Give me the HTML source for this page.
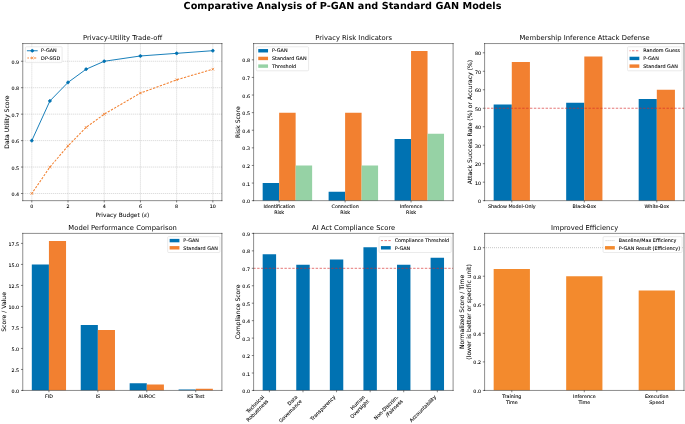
<!DOCTYPE html>
<html><head><meta charset="utf-8"><title>Comparative Analysis of P-GAN and Standard GAN Models</title>
<style>html,body{margin:0;padding:0;background:#fff;}body{width:685px;height:424px;overflow:hidden;}svg{display:block;text-rendering:geometricPrecision;}svg text{stroke:#000;stroke-linejoin:round;}</style>
</head><body>
<svg width="685" height="424" viewBox="0 0 685 424" version="1.1">
 
 <defs>
  <style type="text/css">*{stroke-linejoin: round; stroke-linecap: butt}</style>
 </defs>
 <g id="figure_1">
  <g id="patch_1">
   <path d="M 0 424 
L 685 424 
L 685 0 
L 0 0 
z
" style="fill: #ffffff"/>
  </g>
  <g id="axes_1">
   <g id="patch_2">
    <path d="M 22.75 200.65 
L 221.9 200.65 
L 221.9 43.55 
L 22.75 43.55 
z
" style="fill: #ffffff"/>
   </g>
   <g id="matplotlib.axis_1">
    <g id="xtick_1">
     <g id="line2d_1">
      <path d="M 31.802273 200.65 
L 31.802273 43.55 
" clip-path="url(#pb5291930f9)" style="fill: none; stroke-dasharray: 1.1,0.9; stroke-dashoffset: 0; stroke: #a8a8a8; stroke-opacity: 0.9; stroke-width: 0.5"/>
     </g>
     <g id="line2d_2">
      <defs>
       <path id="m4ba33041bc" d="M 0 0 
L 0 1.8 
" style="stroke: #000000; stroke-width: 0.5"/>
      </defs>
      <g>
       <use href="#m4ba33041bc" x="31.802273" y="200.65" style="stroke: #000000; stroke-width: 0.5"/>
      </g>
     </g>
     <g id="xtl_0_1">
      <text style="font-size: 48px; stroke-width: 0.8; font-family: 'DejaVu Sans', sans-serif; text-anchor: middle" transform="translate(31.802273 207.89725) scale(0.1)">0</text>
     </g>
    </g>
    <g id="xtick_2">
     <g id="line2d_3">
      <path d="M 68.011364 200.65 
L 68.011364 43.55 
" clip-path="url(#pb5291930f9)" style="fill: none; stroke-dasharray: 1.1,0.9; stroke-dashoffset: 0; stroke: #a8a8a8; stroke-opacity: 0.9; stroke-width: 0.5"/>
     </g>
     <g id="line2d_4">
      <g>
       <use href="#m4ba33041bc" x="68.011364" y="200.65" style="stroke: #000000; stroke-width: 0.5"/>
      </g>
     </g>
     <g id="xtl_0_2">
      <text style="font-size: 48px; stroke-width: 0.8; font-family: 'DejaVu Sans', sans-serif; text-anchor: middle" transform="translate(68.011364 207.89725) scale(0.1)">2</text>
     </g>
    </g>
    <g id="xtick_3">
     <g id="line2d_5">
      <path d="M 104.220455 200.65 
L 104.220455 43.55 
" clip-path="url(#pb5291930f9)" style="fill: none; stroke-dasharray: 1.1,0.9; stroke-dashoffset: 0; stroke: #a8a8a8; stroke-opacity: 0.9; stroke-width: 0.5"/>
     </g>
     <g id="line2d_6">
      <g>
       <use href="#m4ba33041bc" x="104.220455" y="200.65" style="stroke: #000000; stroke-width: 0.5"/>
      </g>
     </g>
     <g id="xtl_0_3">
      <text style="font-size: 48px; stroke-width: 0.8; font-family: 'DejaVu Sans', sans-serif; text-anchor: middle" transform="translate(104.220455 207.89725) scale(0.1)">4</text>
     </g>
    </g>
    <g id="xtick_4">
     <g id="line2d_7">
      <path d="M 140.429545 200.65 
L 140.429545 43.55 
" clip-path="url(#pb5291930f9)" style="fill: none; stroke-dasharray: 1.1,0.9; stroke-dashoffset: 0; stroke: #a8a8a8; stroke-opacity: 0.9; stroke-width: 0.5"/>
     </g>
     <g id="line2d_8">
      <g>
       <use href="#m4ba33041bc" x="140.429545" y="200.65" style="stroke: #000000; stroke-width: 0.5"/>
      </g>
     </g>
     <g id="xtl_0_4">
      <text style="font-size: 48px; stroke-width: 0.8; font-family: 'DejaVu Sans', sans-serif; text-anchor: middle" transform="translate(140.429545 207.89725) scale(0.1)">6</text>
     </g>
    </g>
    <g id="xtick_5">
     <g id="line2d_9">
      <path d="M 176.638636 200.65 
L 176.638636 43.55 
" clip-path="url(#pb5291930f9)" style="fill: none; stroke-dasharray: 1.1,0.9; stroke-dashoffset: 0; stroke: #a8a8a8; stroke-opacity: 0.9; stroke-width: 0.5"/>
     </g>
     <g id="line2d_10">
      <g>
       <use href="#m4ba33041bc" x="176.638636" y="200.65" style="stroke: #000000; stroke-width: 0.5"/>
      </g>
     </g>
     <g id="xtl_0_5">
      <text style="font-size: 48px; stroke-width: 0.8; font-family: 'DejaVu Sans', sans-serif; text-anchor: middle" transform="translate(176.638636 207.89725) scale(0.1)">8</text>
     </g>
    </g>
    <g id="xtick_6">
     <g id="line2d_11">
      <path d="M 212.847727 200.65 
L 212.847727 43.55 
" clip-path="url(#pb5291930f9)" style="fill: none; stroke-dasharray: 1.1,0.9; stroke-dashoffset: 0; stroke: #a8a8a8; stroke-opacity: 0.9; stroke-width: 0.5"/>
     </g>
     <g id="line2d_12">
      <g>
       <use href="#m4ba33041bc" x="212.847727" y="200.65" style="stroke: #000000; stroke-width: 0.5"/>
      </g>
     </g>
     <g id="xtl_0_6">
      <text style="font-size: 48px; stroke-width: 0.8; font-family: 'DejaVu Sans', sans-serif; text-anchor: middle" transform="translate(212.847727 207.89725) scale(0.1)">10</text>
     </g>
    </g>
    <g id="xlab_0">
     <!-- Privacy Budget ($\epsilon$) -->
     <g transform="translate(95.415 217.6415)">
      <text transform="scale(0.1)">
       <tspan x="0" y="-4.375" style="font-size: 58.5px; stroke-width: 0.4; font-family: 'DejaVu Sans', sans-serif">P</tspan>
       <tspan x="35.4279" y="-4.375" style="font-size: 58.5px; stroke-width: 0.4; font-family: 'DejaVu Sans', sans-serif">r</tspan>
       <tspan x="59.5819" y="-4.375" style="font-size: 58.5px; stroke-width: 0.4; font-family: 'DejaVu Sans', sans-serif">i</tspan>
       <tspan x="75.9045" y="-4.375" style="font-size: 58.5px; stroke-width: 0.4; font-family: 'DejaVu Sans', sans-serif">v</tspan>
       <tspan x="110.673" y="-4.375" style="font-size: 58.5px; stroke-width: 0.4; font-family: 'DejaVu Sans', sans-serif">a</tspan>
       <tspan x="146.674" y="-4.375" style="font-size: 58.5px; stroke-width: 0.4; font-family: 'DejaVu Sans', sans-serif">c</tspan>
       <tspan x="178.975" y="-4.375" style="font-size: 58.5px; stroke-width: 0.4; font-family: 'DejaVu Sans', sans-serif">y</tspan>
       <tspan x="213.743" y="-4.375" style="font-size: 58.5px; stroke-width: 0.4; font-family: 'DejaVu Sans', sans-serif"> </tspan>
       <tspan x="232.418" y="-4.375" style="font-size: 58.5px; stroke-width: 0.4; font-family: 'DejaVu Sans', sans-serif">B</tspan>
       <tspan x="272.723" y="-4.375" style="font-size: 58.5px; stroke-width: 0.4; font-family: 'DejaVu Sans', sans-serif">u</tspan>
       <tspan x="309.958" y="-4.375" style="font-size: 58.5px; stroke-width: 0.4; font-family: 'DejaVu Sans', sans-serif">d</tspan>
       <tspan x="347.25" y="-4.375" style="font-size: 58.5px; stroke-width: 0.4; font-family: 'DejaVu Sans', sans-serif">g</tspan>
       <tspan x="384.543" y="-4.375" style="font-size: 58.5px; stroke-width: 0.4; font-family: 'DejaVu Sans', sans-serif">e</tspan>
       <tspan x="420.688" y="-4.375" style="font-size: 58.5px; stroke-width: 0.4; font-family: 'DejaVu Sans', sans-serif">t</tspan>
       <tspan x="443.723" y="-4.375" style="font-size: 58.5px; stroke-width: 0.4; font-family: 'DejaVu Sans', sans-serif"> </tspan>
       <tspan x="462.398" y="-4.375" style="font-size: 58.5px; stroke-width: 0.4; font-family: 'DejaVu Sans', sans-serif">(</tspan>
       <tspan x="517.075" y="-4.375" style="font-size: 58.5px; stroke-width: 0.4; font-family: 'DejaVu Sans', sans-serif">)</tspan>
       <tspan x="485.319" y="-4.375" style="font-style: oblique; font-size: 58.5px; stroke-width: 0.4; font-family: 'DejaVu Sans', sans-serif">ε</tspan>
      </text>
     </g>
    </g>
   </g>
   <g id="matplotlib.axis_2">
    <g id="ytick_1">
     <g id="line2d_13">
      <path d="M 22.75 193.509091 
L 221.9 193.509091 
" clip-path="url(#pb5291930f9)" style="fill: none; stroke-dasharray: 1.1,0.9; stroke-dashoffset: 0; stroke: #a8a8a8; stroke-opacity: 0.9; stroke-width: 0.5"/>
     </g>
     <g id="line2d_14">
      <defs>
       <path id="madb1147b77" d="M 0 0 
L -1.8 0 
" style="stroke: #000000; stroke-width: 0.5"/>
      </defs>
      <g>
       <use href="#madb1147b77" x="22.75" y="193.509091" style="stroke: #000000; stroke-width: 0.5"/>
      </g>
     </g>
     <g transform="translate(0 0.7)" id="ytl_0_1">
      <text style="font-size: 48px; stroke-width: 0.8; font-family: 'DejaVu Sans', sans-serif; text-anchor: end" transform="translate(19.15 195.332716) scale(0.1)">0.4</text>
     </g>
    </g>
    <g id="ytick_2">
     <g id="line2d_15">
      <path d="M 22.75 167.061279 
L 221.9 167.061279 
" clip-path="url(#pb5291930f9)" style="fill: none; stroke-dasharray: 1.1,0.9; stroke-dashoffset: 0; stroke: #a8a8a8; stroke-opacity: 0.9; stroke-width: 0.5"/>
     </g>
     <g id="line2d_16">
      <g>
       <use href="#madb1147b77" x="22.75" y="167.061279" style="stroke: #000000; stroke-width: 0.5"/>
      </g>
     </g>
     <g transform="translate(0 0.7)" id="ytl_0_2">
      <text style="font-size: 48px; stroke-width: 0.8; font-family: 'DejaVu Sans', sans-serif; text-anchor: end" transform="translate(19.15 168.884904) scale(0.1)">0.5</text>
     </g>
    </g>
    <g id="ytick_3">
     <g id="line2d_17">
      <path d="M 22.75 140.613468 
L 221.9 140.613468 
" clip-path="url(#pb5291930f9)" style="fill: none; stroke-dasharray: 1.1,0.9; stroke-dashoffset: 0; stroke: #a8a8a8; stroke-opacity: 0.9; stroke-width: 0.5"/>
     </g>
     <g id="line2d_18">
      <g>
       <use href="#madb1147b77" x="22.75" y="140.613468" style="stroke: #000000; stroke-width: 0.5"/>
      </g>
     </g>
     <g transform="translate(0 0.7)" id="ytl_0_3">
      <text style="font-size: 48px; stroke-width: 0.8; font-family: 'DejaVu Sans', sans-serif; text-anchor: end" transform="translate(19.15 142.437093) scale(0.1)">0.6</text>
     </g>
    </g>
    <g id="ytick_4">
     <g id="line2d_19">
      <path d="M 22.75 114.165657 
L 221.9 114.165657 
" clip-path="url(#pb5291930f9)" style="fill: none; stroke-dasharray: 1.1,0.9; stroke-dashoffset: 0; stroke: #a8a8a8; stroke-opacity: 0.9; stroke-width: 0.5"/>
     </g>
     <g id="line2d_20">
      <g>
       <use href="#madb1147b77" x="22.75" y="114.165657" style="stroke: #000000; stroke-width: 0.5"/>
      </g>
     </g>
     <g transform="translate(0 0.7)" id="ytl_0_4">
      <text style="font-size: 48px; stroke-width: 0.8; font-family: 'DejaVu Sans', sans-serif; text-anchor: end" transform="translate(19.15 115.989282) scale(0.1)">0.7</text>
     </g>
    </g>
    <g id="ytick_5">
     <g id="line2d_21">
      <path d="M 22.75 87.717845 
L 221.9 87.717845 
" clip-path="url(#pb5291930f9)" style="fill: none; stroke-dasharray: 1.1,0.9; stroke-dashoffset: 0; stroke: #a8a8a8; stroke-opacity: 0.9; stroke-width: 0.5"/>
     </g>
     <g id="line2d_22">
      <g>
       <use href="#madb1147b77" x="22.75" y="87.717845" style="stroke: #000000; stroke-width: 0.5"/>
      </g>
     </g>
     <g transform="translate(0 0.7)" id="ytl_0_5">
      <text style="font-size: 48px; stroke-width: 0.8; font-family: 'DejaVu Sans', sans-serif; text-anchor: end" transform="translate(19.15 89.54147) scale(0.1)">0.8</text>
     </g>
    </g>
    <g id="ytick_6">
     <g id="line2d_23">
      <path d="M 22.75 61.270034 
L 221.9 61.270034 
" clip-path="url(#pb5291930f9)" style="fill: none; stroke-dasharray: 1.1,0.9; stroke-dashoffset: 0; stroke: #a8a8a8; stroke-opacity: 0.9; stroke-width: 0.5"/>
     </g>
     <g id="line2d_24">
      <g>
       <use href="#madb1147b77" x="22.75" y="61.270034" style="stroke: #000000; stroke-width: 0.5"/>
      </g>
     </g>
     <g transform="translate(0 0.7)" id="ytl_0_6">
      <text style="font-size: 48px; stroke-width: 0.8; font-family: 'DejaVu Sans', sans-serif; text-anchor: end" transform="translate(19.15 63.093659) scale(0.1)">0.9</text>
     </g>
    </g>
    <g transform="translate(-0.4 0)" id="ylab_0">
     <text style="font-size: 60.8px; stroke-width: 0.4; font-family: 'DejaVu Sans', sans-serif; text-anchor: middle" transform="translate(9.65205 122.1) rotate(-90) scale(0.1)">Data Utility Score</text>
    </g>
   </g>
   <g id="line2d_25">
    <path d="M 31.802273 140.613468 
L 49.906818 100.941751 
L 68.011364 82.428283 
L 86.115909 69.204377 
L 104.220455 61.270034 
L 140.429545 55.980471 
L 176.638636 53.33569 
L 212.847727 50.690909 
" clip-path="url(#pb5291930f9)" style="fill: none; stroke: #0072b2; stroke-width: 0.9; stroke-linecap: square"/>
    <defs>
     <path id="m1eac5fb8b6" d="M 0 1.3 
C 0.344764 1.3 0.675454 1.163024 0.919239 0.919239 
C 1.163024 0.675454 1.3 0.344764 1.3 0 
C 1.3 -0.344764 1.163024 -0.675454 0.919239 -0.919239 
C 0.675454 -1.163024 0.344764 -1.3 0 -1.3 
C -0.344764 -1.3 -0.675454 -1.163024 -0.919239 -0.919239 
C -1.163024 -0.675454 -1.3 -0.344764 -1.3 0 
C -1.3 0.344764 -1.163024 0.675454 -0.919239 0.919239 
C -0.675454 1.163024 -0.344764 1.3 0 1.3 
z
" style="stroke: #0072b2"/>
    </defs>
    <g clip-path="url(#pb5291930f9)">
     <use href="#m1eac5fb8b6" x="31.802273" y="140.613468" style="fill: #0072b2; stroke: #0072b2"/>
     <use href="#m1eac5fb8b6" x="49.906818" y="100.941751" style="fill: #0072b2; stroke: #0072b2"/>
     <use href="#m1eac5fb8b6" x="68.011364" y="82.428283" style="fill: #0072b2; stroke: #0072b2"/>
     <use href="#m1eac5fb8b6" x="86.115909" y="69.204377" style="fill: #0072b2; stroke: #0072b2"/>
     <use href="#m1eac5fb8b6" x="104.220455" y="61.270034" style="fill: #0072b2; stroke: #0072b2"/>
     <use href="#m1eac5fb8b6" x="140.429545" y="55.980471" style="fill: #0072b2; stroke: #0072b2"/>
     <use href="#m1eac5fb8b6" x="176.638636" y="53.33569" style="fill: #0072b2; stroke: #0072b2"/>
     <use href="#m1eac5fb8b6" x="212.847727" y="50.690909" style="fill: #0072b2; stroke: #0072b2"/>
    </g>
   </g>
   <g id="line2d_26">
    <path d="M 31.802273 193.509091 
L 49.906818 167.061279 
L 68.011364 145.90303 
L 86.115909 127.389562 
L 104.220455 114.165657 
L 140.429545 93.007407 
L 176.638636 79.783502 
L 212.847727 69.204377 
" clip-path="url(#pb5291930f9)" style="fill: none; stroke-dasharray: 2.3,1.35; stroke-dashoffset: 0.77; stroke: #f28030; stroke-width: 1.05"/>
    <defs>
     <path id="maa9ec231bf" d="M -1.3 1.3 
L 1.3 -1.3 
M -1.3 -1.3 
L 1.3 1.3 
" style="stroke: #f28030; stroke-width: 0.75"/>
    </defs>
    <g clip-path="url(#pb5291930f9)">
     <use href="#maa9ec231bf" x="31.802273" y="193.509091" style="fill: #f28030; stroke: #f28030; stroke-width: 0.75"/>
     <use href="#maa9ec231bf" x="49.906818" y="167.061279" style="fill: #f28030; stroke: #f28030; stroke-width: 0.75"/>
     <use href="#maa9ec231bf" x="68.011364" y="145.90303" style="fill: #f28030; stroke: #f28030; stroke-width: 0.75"/>
     <use href="#maa9ec231bf" x="86.115909" y="127.389562" style="fill: #f28030; stroke: #f28030; stroke-width: 0.75"/>
     <use href="#maa9ec231bf" x="104.220455" y="114.165657" style="fill: #f28030; stroke: #f28030; stroke-width: 0.75"/>
     <use href="#maa9ec231bf" x="140.429545" y="93.007407" style="fill: #f28030; stroke: #f28030; stroke-width: 0.75"/>
     <use href="#maa9ec231bf" x="176.638636" y="79.783502" style="fill: #f28030; stroke: #f28030; stroke-width: 0.75"/>
     <use href="#maa9ec231bf" x="212.847727" y="69.204377" style="fill: #f28030; stroke: #f28030; stroke-width: 0.75"/>
    </g>
   </g>
   <g id="patch_3">
    <path d="M 22.75 200.65 
L 22.75 43.55 
" style="fill: none; stroke: #000000; stroke-width: 0.45; stroke-linejoin: miter; stroke-linecap: square"/>
   </g>
   <g id="patch_4">
    <path d="M 221.9 200.65 
L 221.9 43.55 
" style="fill: none; stroke: #000000; stroke-width: 0.45; stroke-linejoin: miter; stroke-linecap: square"/>
   </g>
   <g id="patch_5">
    <path d="M 22.75 200.65 
L 221.9 200.65 
" style="fill: none; stroke: #000000; stroke-width: 0.45; stroke-linejoin: miter; stroke-linecap: square"/>
   </g>
   <g id="patch_6">
    <path d="M 22.75 43.55 
L 221.9 43.55 
" style="fill: none; stroke: #000000; stroke-width: 0.45; stroke-linejoin: miter; stroke-linecap: square"/>
   </g>
   <g transform="translate(0.3 -0.3)" id="ttl_0">
    <text style="font-size: 68px; stroke-width: 0; font-family: 'DejaVu Sans', sans-serif; text-anchor: middle" transform="translate(122.325 40.45) scale(0.1)">Privacy-Utility Trade-off</text>
   </g>
   <g id="legend_1">
    <g id="patch_7">
     <path d="M 26.414 62.638562 
L 61.159594 62.638562 
Q 62.139594 62.638562 62.139594 61.658562 
L 62.139594 47.764 
Q 62.139594 46.784 61.159594 46.784 
L 26.414 46.784 
Q 25.434 46.784 25.434 47.764 
L 25.434 61.658562 
Q 25.434 62.638562 26.414 62.638562 
z
" style="fill: #ffffff; opacity: 0.8; stroke: #cccccc; stroke-width: 0.5; stroke-linejoin: miter"/>
    </g>
    <g id="line2d_27">
     <path d="M 27.394 50.752234 
L 32.294 50.752234 
L 37.194 50.752234 
" style="fill: none; stroke: #0072b2; stroke-width: 0.9; stroke-linecap: square"/>
     <g>
      <use href="#m1eac5fb8b6" x="32.294" y="50.752234" style="fill: #0072b2; stroke: #0072b2"/>
     </g>
    </g>
    <g id="lgt_0_0">
     <text style="font-size: 49px; stroke-width: 0.8; font-family: 'DejaVu Sans', sans-serif; text-anchor: start" transform="translate(41.114 52.467234) scale(0.1)">P-GAN</text>
    </g>
    <g id="line2d_28">
     <path d="M 27.394 57.944516 
L 32.294 57.944516 
L 37.194 57.944516 
" style="fill: none; stroke-dasharray: 2.3,1.35; stroke-dashoffset: 0.77; stroke: #f28030; stroke-width: 1.05"/>
     <g>
      <use href="#maa9ec231bf" x="32.294" y="57.944516" style="fill: #f28030; stroke: #f28030; stroke-width: 0.75"/>
     </g>
    </g>
    <g id="lgt_0_1">
     <text style="font-size: 49px; stroke-width: 0.8; font-family: 'DejaVu Sans', sans-serif; text-anchor: start" transform="translate(41.114 59.659516) scale(0.1)">DP-SGD</text>
    </g>
   </g>
  </g>
  <g id="axes_2">
   <g id="patch_8">
    <path d="M 253.6 200.65 
L 453.1 200.65 
L 453.1 43.55 
L 253.6 43.55 
z
" style="fill: #ffffff"/>
   </g>
   <g id="patch_9">
    <path d="M 262.668182 200.65 
L 279.155785 200.65 
L 279.155785 183.047759 
L 262.668182 183.047759 
z
" clip-path="url(#pd7e8473925)" style="fill: #0072b2"/>
   </g>
   <g id="patch_10">
    <path d="M 328.618595 200.65 
L 345.106198 200.65 
L 345.106198 191.84888 
L 328.618595 191.84888 
z
" clip-path="url(#pd7e8473925)" style="fill: #0072b2"/>
   </g>
   <g id="patch_11">
    <path d="M 394.569008 200.65 
L 411.056612 200.65 
L 411.056612 139.042157 
L 394.569008 139.042157 
z
" clip-path="url(#pd7e8473925)" style="fill: #0072b2"/>
   </g>
   <g id="patch_12">
    <path d="M 279.155785 200.65 
L 295.643388 200.65 
L 295.643388 112.638796 
L 279.155785 112.638796 
z
" clip-path="url(#pd7e8473925)" style="fill: #f28030"/>
   </g>
   <g id="patch_13">
    <path d="M 345.106198 200.65 
L 361.593802 200.65 
L 361.593802 112.638796 
L 345.106198 112.638796 
z
" clip-path="url(#pd7e8473925)" style="fill: #f28030"/>
   </g>
   <g id="patch_14">
    <path d="M 411.056612 200.65 
L 427.544215 200.65 
L 427.544215 51.030952 
L 411.056612 51.030952 
z
" clip-path="url(#pd7e8473925)" style="fill: #f28030"/>
   </g>
   <g id="patch_15">
    <path d="M 295.643388 200.65 
L 312.130992 200.65 
L 312.130992 165.445518 
L 295.643388 165.445518 
z
" clip-path="url(#pd7e8473925)" style="fill: #96d2a5"/>
   </g>
   <g id="patch_16">
    <path d="M 361.593802 200.65 
L 378.081405 200.65 
L 378.081405 165.445518 
L 361.593802 165.445518 
z
" clip-path="url(#pd7e8473925)" style="fill: #96d2a5"/>
   </g>
   <g id="patch_17">
    <path d="M 427.544215 200.65 
L 444.031818 200.65 
L 444.031818 133.761485 
L 427.544215 133.761485 
z
" clip-path="url(#pd7e8473925)" style="fill: #96d2a5"/>
   </g>
   <g id="matplotlib.axis_3">
    <g id="xtick_7">
     <g id="line2d_29">
      <g>
       <use href="#m4ba33041bc" x="279.155785" y="200.65" style="stroke: #000000; stroke-width: 0.5"/>
      </g>
     </g>
     <g id="xtl_1_0">
      <text style="font-size: 48px; stroke-width: 0.8; font-family: 'DejaVu Sans', sans-serif" transform="translate(263.41966 207.89725) scale(0.1)">Identification</text>
      <text style="font-size: 48px; stroke-width: 0.8; font-family: 'DejaVu Sans', sans-serif" transform="translate(274.18141 213.70987) scale(0.1)">Risk</text>
     </g>
    </g>
    <g id="xtick_8">
     <g id="line2d_30">
      <g>
       <use href="#m4ba33041bc" x="345.106198" y="200.65" style="stroke: #000000; stroke-width: 0.5"/>
      </g>
     </g>
     <g id="xtl_1_1">
      <text style="font-size: 48px; stroke-width: 0.8; font-family: 'DejaVu Sans', sans-serif" transform="translate(331.526323 207.89725) scale(0.1)">Connection</text>
      <text style="font-size: 48px; stroke-width: 0.8; font-family: 'DejaVu Sans', sans-serif" transform="translate(340.131823 213.70987) scale(0.1)">Risk</text>
     </g>
    </g>
    <g id="xtick_9">
     <g id="line2d_31">
      <g>
       <use href="#m4ba33041bc" x="411.056612" y="200.65" style="stroke: #000000; stroke-width: 0.5"/>
      </g>
     </g>
     <g id="xtl_1_2">
      <text style="font-size: 48px; stroke-width: 0.8; font-family: 'DejaVu Sans', sans-serif" transform="translate(399.779237 207.89725) scale(0.1)">Inference</text>
      <text style="font-size: 48px; stroke-width: 0.8; font-family: 'DejaVu Sans', sans-serif" transform="translate(406.082237 213.70987) scale(0.1)">Risk</text>
     </g>
    </g>
   </g>
   <g id="matplotlib.axis_4">
    <g id="ytick_7">
     <g id="line2d_32">
      <g>
       <use href="#madb1147b77" x="253.6" y="200.65" style="stroke: #000000; stroke-width: 0.5"/>
      </g>
     </g>
     <g transform="translate(0 0.7)" id="ytl_1_0">
      <text style="font-size: 48px; stroke-width: 0.8; font-family: 'DejaVu Sans', sans-serif; text-anchor: end" transform="translate(250 202.473625) scale(0.1)">0.0</text>
     </g>
    </g>
    <g id="ytick_8">
     <g id="line2d_33">
      <g>
       <use href="#madb1147b77" x="253.6" y="183.047759" style="stroke: #000000; stroke-width: 0.5"/>
      </g>
     </g>
     <g transform="translate(0 0.7)" id="ytl_1_1">
      <text style="font-size: 48px; stroke-width: 0.8; font-family: 'DejaVu Sans', sans-serif; text-anchor: end" transform="translate(250 184.871384) scale(0.1)">0.1</text>
     </g>
    </g>
    <g id="ytick_9">
     <g id="line2d_34">
      <g>
       <use href="#madb1147b77" x="253.6" y="165.445518" style="stroke: #000000; stroke-width: 0.5"/>
      </g>
     </g>
     <g transform="translate(0 0.7)" id="ytl_1_2">
      <text style="font-size: 48px; stroke-width: 0.8; font-family: 'DejaVu Sans', sans-serif; text-anchor: end" transform="translate(250 167.269143) scale(0.1)">0.2</text>
     </g>
    </g>
    <g id="ytick_10">
     <g id="line2d_35">
      <g>
       <use href="#madb1147b77" x="253.6" y="147.843277" style="stroke: #000000; stroke-width: 0.5"/>
      </g>
     </g>
     <g transform="translate(0 0.7)" id="ytl_1_3">
      <text style="font-size: 48px; stroke-width: 0.8; font-family: 'DejaVu Sans', sans-serif; text-anchor: end" transform="translate(250 149.666902) scale(0.1)">0.3</text>
     </g>
    </g>
    <g id="ytick_11">
     <g id="line2d_36">
      <g>
       <use href="#madb1147b77" x="253.6" y="130.241036" style="stroke: #000000; stroke-width: 0.5"/>
      </g>
     </g>
     <g transform="translate(0 0.7)" id="ytl_1_4">
      <text style="font-size: 48px; stroke-width: 0.8; font-family: 'DejaVu Sans', sans-serif; text-anchor: end" transform="translate(250 132.064661) scale(0.1)">0.4</text>
     </g>
    </g>
    <g id="ytick_12">
     <g id="line2d_37">
      <g>
       <use href="#madb1147b77" x="253.6" y="112.638796" style="stroke: #000000; stroke-width: 0.5"/>
      </g>
     </g>
     <g transform="translate(0 0.7)" id="ytl_1_5">
      <text style="font-size: 48px; stroke-width: 0.8; font-family: 'DejaVu Sans', sans-serif; text-anchor: end" transform="translate(250 114.462421) scale(0.1)">0.5</text>
     </g>
    </g>
    <g id="ytick_13">
     <g id="line2d_38">
      <g>
       <use href="#madb1147b77" x="253.6" y="95.036555" style="stroke: #000000; stroke-width: 0.5"/>
      </g>
     </g>
     <g transform="translate(0 0.7)" id="ytl_1_6">
      <text style="font-size: 48px; stroke-width: 0.8; font-family: 'DejaVu Sans', sans-serif; text-anchor: end" transform="translate(250 96.86018) scale(0.1)">0.6</text>
     </g>
    </g>
    <g id="ytick_14">
     <g id="line2d_39">
      <g>
       <use href="#madb1147b77" x="253.6" y="77.434314" style="stroke: #000000; stroke-width: 0.5"/>
      </g>
     </g>
     <g transform="translate(0 0.7)" id="ytl_1_7">
      <text style="font-size: 48px; stroke-width: 0.8; font-family: 'DejaVu Sans', sans-serif; text-anchor: end" transform="translate(250 79.257939) scale(0.1)">0.7</text>
     </g>
    </g>
    <g id="ytick_15">
     <g id="line2d_40">
      <g>
       <use href="#madb1147b77" x="253.6" y="59.832073" style="stroke: #000000; stroke-width: 0.5"/>
      </g>
     </g>
     <g transform="translate(0 0.7)" id="ytl_1_8">
      <text style="font-size: 48px; stroke-width: 0.8; font-family: 'DejaVu Sans', sans-serif; text-anchor: end" transform="translate(250 61.655698) scale(0.1)">0.8</text>
     </g>
    </g>
    <g transform="translate(-0.65 0)" id="ylab_1">
     <text style="font-size: 60.8px; stroke-width: 0.4; font-family: 'DejaVu Sans', sans-serif; text-anchor: middle" transform="translate(240.50205 122.1) rotate(-90) scale(0.1)">Risk Score</text>
    </g>
   </g>
   <g id="patch_18">
    <path d="M 253.6 200.65 
L 253.6 43.55 
" style="fill: none; stroke: #000000; stroke-width: 0.45; stroke-linejoin: miter; stroke-linecap: square"/>
   </g>
   <g id="patch_19">
    <path d="M 453.1 200.65 
L 453.1 43.55 
" style="fill: none; stroke: #000000; stroke-width: 0.45; stroke-linejoin: miter; stroke-linecap: square"/>
   </g>
   <g id="patch_20">
    <path d="M 253.6 200.65 
L 453.1 200.65 
" style="fill: none; stroke: #000000; stroke-width: 0.45; stroke-linejoin: miter; stroke-linecap: square"/>
   </g>
   <g id="patch_21">
    <path d="M 253.6 43.55 
L 453.1 43.55 
" style="fill: none; stroke: #000000; stroke-width: 0.45; stroke-linejoin: miter; stroke-linecap: square"/>
   </g>
   <g transform="translate(0.3 -0.3)" id="ttl_1">
    <text style="font-size: 68px; stroke-width: 0; font-family: 'DejaVu Sans', sans-serif; text-anchor: middle" transform="translate(353.35 40.45) scale(0.1)">Privacy Risk Indicators</text>
   </g>
   <g id="legend_2">
    <g id="patch_22">
     <path d="M 257.264 70.810844 
L 307.608437 70.810844 
Q 308.588437 70.810844 308.588437 69.830844 
L 308.588437 47.764 
Q 308.588437 46.784 307.608437 46.784 
L 257.264 46.784 
Q 256.284 46.784 256.284 47.764 
L 256.284 69.830844 
Q 256.284 70.810844 257.264 70.810844 
z
" style="fill: #ffffff; opacity: 0.8; stroke: #cccccc; stroke-width: 0.5; stroke-linejoin: miter"/>
    </g>
    <g id="patch_23">
     <path d="M 258.244 52.467234 
L 268.044 52.467234 
L 268.044 49.037234 
L 258.244 49.037234 
z
" style="fill: #0072b2"/>
    </g>
    <g id="lgt_1_0">
     <text style="font-size: 49px; stroke-width: 0.8; font-family: 'DejaVu Sans', sans-serif; text-anchor: start" transform="translate(271.964 52.467234) scale(0.1)">P-GAN</text>
    </g>
    <g id="patch_24">
     <path d="M 258.244 60.149516 
L 268.044 60.149516 
L 268.044 56.719516 
L 258.244 56.719516 
z
" style="fill: #f28030"/>
    </g>
    <g id="lgt_1_1">
     <text style="font-size: 49px; stroke-width: 0.8; font-family: 'DejaVu Sans', sans-serif; text-anchor: start" transform="translate(271.964 60.149516) scale(0.1)">Standard GAN</text>
    </g>
    <g id="patch_25">
     <path d="M 258.244 67.831797 
L 268.044 67.831797 
L 268.044 64.401797 
L 258.244 64.401797 
z
" style="fill: #96d2a5"/>
    </g>
    <g id="lgt_1_2">
     <text style="font-size: 49px; stroke-width: 0.8; font-family: 'DejaVu Sans', sans-serif; text-anchor: start" transform="translate(271.964 67.831797) scale(0.1)">Threshold</text>
    </g>
   </g>
  </g>
  <g id="axes_3">
   <g id="patch_26">
    <path d="M 484.6 200.65 
L 684 200.65 
L 684 43.55 
L 484.6 43.55 
z
" style="fill: #ffffff"/>
   </g>
   <g id="patch_27">
    <path d="M 493.663636 200.65 
L 511.790909 200.65 
L 511.790909 104.541765 
L 493.663636 104.541765 
z
" clip-path="url(#pd93d9372f3)" style="fill: #0072b2"/>
   </g>
   <g id="patch_28">
    <path d="M 566.172727 200.65 
L 584.3 200.65 
L 584.3 102.693529 
L 566.172727 102.693529 
z
" clip-path="url(#pd93d9372f3)" style="fill: #0072b2"/>
   </g>
   <g id="patch_29">
    <path d="M 638.681818 200.65 
L 656.809091 200.65 
L 656.809091 98.997059 
L 638.681818 98.997059 
z
" clip-path="url(#pd93d9372f3)" style="fill: #0072b2"/>
   </g>
   <g id="patch_30">
    <path d="M 511.790909 200.65 
L 529.918182 200.65 
L 529.918182 62.032353 
L 511.790909 62.032353 
z
" clip-path="url(#pd93d9372f3)" style="fill: #f28030"/>
   </g>
   <g id="patch_31">
    <path d="M 584.3 200.65 
L 602.427273 200.65 
L 602.427273 56.487647 
L 584.3 56.487647 
z
" clip-path="url(#pd93d9372f3)" style="fill: #f28030"/>
   </g>
   <g id="patch_32">
    <path d="M 656.809091 200.65 
L 674.936364 200.65 
L 674.936364 89.755882 
L 656.809091 89.755882 
z
" clip-path="url(#pd93d9372f3)" style="fill: #f28030"/>
   </g>
   <g id="matplotlib.axis_5">
    <g id="xtick_10">
     <g id="line2d_41">
      <g>
       <use href="#m4ba33041bc" x="511.790909" y="200.65" style="stroke: #000000; stroke-width: 0.5"/>
      </g>
     </g>
     <g id="xtl_2_0">
      <text style="font-size: 48px; stroke-width: 0.8; font-family: 'DejaVu Sans', sans-serif; text-anchor: middle" transform="translate(511.790909 207.89725) scale(0.1)">Shadow Model-Only</text>
     </g>
    </g>
    <g id="xtick_11">
     <g id="line2d_42">
      <g>
       <use href="#m4ba33041bc" x="584.3" y="200.65" style="stroke: #000000; stroke-width: 0.5"/>
      </g>
     </g>
     <g id="xtl_2_1">
      <text style="font-size: 48px; stroke-width: 0.8; font-family: 'DejaVu Sans', sans-serif; text-anchor: middle" transform="translate(584.3 207.89725) scale(0.1)">Black-Box</text>
     </g>
    </g>
    <g id="xtick_12">
     <g id="line2d_43">
      <g>
       <use href="#m4ba33041bc" x="656.809091" y="200.65" style="stroke: #000000; stroke-width: 0.5"/>
      </g>
     </g>
     <g id="xtl_2_2">
      <text style="font-size: 48px; stroke-width: 0.8; font-family: 'DejaVu Sans', sans-serif; text-anchor: middle" transform="translate(656.809091 207.89725) scale(0.1)">White-Box</text>
     </g>
    </g>
   </g>
   <g id="matplotlib.axis_6">
    <g id="ytick_16">
     <g id="line2d_44">
      <g>
       <use href="#madb1147b77" x="484.6" y="200.65" style="stroke: #000000; stroke-width: 0.5"/>
      </g>
     </g>
     <g transform="translate(0 0.7)" id="ytl_2_0">
      <text style="font-size: 48px; stroke-width: 0.8; font-family: 'DejaVu Sans', sans-serif; text-anchor: end" transform="translate(481 202.473625) scale(0.1)">0</text>
     </g>
    </g>
    <g id="ytick_17">
     <g id="line2d_45">
      <g>
       <use href="#madb1147b77" x="484.6" y="182.167647" style="stroke: #000000; stroke-width: 0.5"/>
      </g>
     </g>
     <g transform="translate(0 0.7)" id="ytl_2_1">
      <text style="font-size: 48px; stroke-width: 0.8; font-family: 'DejaVu Sans', sans-serif; text-anchor: end" transform="translate(481 183.991272) scale(0.1)">10</text>
     </g>
    </g>
    <g id="ytick_18">
     <g id="line2d_46">
      <g>
       <use href="#madb1147b77" x="484.6" y="163.685294" style="stroke: #000000; stroke-width: 0.5"/>
      </g>
     </g>
     <g transform="translate(0 0.7)" id="ytl_2_2">
      <text style="font-size: 48px; stroke-width: 0.8; font-family: 'DejaVu Sans', sans-serif; text-anchor: end" transform="translate(481 165.508919) scale(0.1)">20</text>
     </g>
    </g>
    <g id="ytick_19">
     <g id="line2d_47">
      <g>
       <use href="#madb1147b77" x="484.6" y="145.202941" style="stroke: #000000; stroke-width: 0.5"/>
      </g>
     </g>
     <g transform="translate(0 0.7)" id="ytl_2_3">
      <text style="font-size: 48px; stroke-width: 0.8; font-family: 'DejaVu Sans', sans-serif; text-anchor: end" transform="translate(481 147.026566) scale(0.1)">30</text>
     </g>
    </g>
    <g id="ytick_20">
     <g id="line2d_48">
      <g>
       <use href="#madb1147b77" x="484.6" y="126.720588" style="stroke: #000000; stroke-width: 0.5"/>
      </g>
     </g>
     <g transform="translate(0 0.7)" id="ytl_2_4">
      <text style="font-size: 48px; stroke-width: 0.8; font-family: 'DejaVu Sans', sans-serif; text-anchor: end" transform="translate(481 128.544213) scale(0.1)">40</text>
     </g>
    </g>
    <g id="ytick_21">
     <g id="line2d_49">
      <g>
       <use href="#madb1147b77" x="484.6" y="108.238235" style="stroke: #000000; stroke-width: 0.5"/>
      </g>
     </g>
     <g transform="translate(0 0.7)" id="ytl_2_5">
      <text style="font-size: 48px; stroke-width: 0.8; font-family: 'DejaVu Sans', sans-serif; text-anchor: end" transform="translate(481 110.06186) scale(0.1)">50</text>
     </g>
    </g>
    <g id="ytick_22">
     <g id="line2d_50">
      <g>
       <use href="#madb1147b77" x="484.6" y="89.755882" style="stroke: #000000; stroke-width: 0.5"/>
      </g>
     </g>
     <g transform="translate(0 0.7)" id="ytl_2_6">
      <text style="font-size: 48px; stroke-width: 0.8; font-family: 'DejaVu Sans', sans-serif; text-anchor: end" transform="translate(481 91.579507) scale(0.1)">60</text>
     </g>
    </g>
    <g id="ytick_23">
     <g id="line2d_51">
      <g>
       <use href="#madb1147b77" x="484.6" y="71.273529" style="stroke: #000000; stroke-width: 0.5"/>
      </g>
     </g>
     <g transform="translate(0 0.7)" id="ytl_2_7">
      <text style="font-size: 48px; stroke-width: 0.8; font-family: 'DejaVu Sans', sans-serif; text-anchor: end" transform="translate(481 73.097154) scale(0.1)">70</text>
     </g>
    </g>
    <g id="ytick_24">
     <g id="line2d_52">
      <g>
       <use href="#madb1147b77" x="484.6" y="52.791176" style="stroke: #000000; stroke-width: 0.5"/>
      </g>
     </g>
     <g transform="translate(0 0.7)" id="ytl_2_8">
      <text style="font-size: 48px; stroke-width: 0.8; font-family: 'DejaVu Sans', sans-serif; text-anchor: end" transform="translate(481 54.614801) scale(0.1)">80</text>
     </g>
    </g>
    <g transform="translate(-1.25 0)" id="ylab_2">
     <text style="font-size: 60.8px; stroke-width: 0.4; font-family: 'DejaVu Sans', sans-serif; text-anchor: middle" transform="translate(473.02755 122.1) rotate(-90) scale(0.1)">Attack Success Rate (%) or Accuracy (%)</text>
    </g>
   </g>
   <g id="line2d_53">
    <path d="M 484.6 108.238235 
L 684 108.238235 
" clip-path="url(#pd93d9372f3)" style="fill: none; stroke-dasharray: 2.4,1.5; stroke-dashoffset: 1.4; stroke: #d62728; stroke-opacity: 0.85; stroke-width: 0.75"/>
   </g>
   <g id="patch_33">
    <path d="M 484.6 200.65 
L 484.6 43.55 
" style="fill: none; stroke: #000000; stroke-width: 0.45; stroke-linejoin: miter; stroke-linecap: square"/>
   </g>
   <g id="patch_34">
    <path d="M 684 200.65 
L 684 43.55 
" style="fill: none; stroke: #000000; stroke-width: 0.45; stroke-linejoin: miter; stroke-linecap: square"/>
   </g>
   <g id="patch_35">
    <path d="M 484.6 200.65 
L 684 200.65 
" style="fill: none; stroke: #000000; stroke-width: 0.45; stroke-linejoin: miter; stroke-linecap: square"/>
   </g>
   <g id="patch_36">
    <path d="M 484.6 43.55 
L 684 43.55 
" style="fill: none; stroke: #000000; stroke-width: 0.45; stroke-linejoin: miter; stroke-linecap: square"/>
   </g>
   <g transform="translate(0.3 -0.3)" id="ttl_2">
    <text style="font-size: 68px; stroke-width: 0; font-family: 'DejaVu Sans', sans-serif; text-anchor: middle" transform="translate(584.3 40.45) scale(0.1)">Membership Inference Attack Defense</text>
   </g>
   <g id="legend_3">
    <g id="patch_37">
     <path d="M 628.541922 70.810844 
L 681.086 70.810844 
Q 682.066 70.810844 682.066 69.830844 
L 682.066 47.764 
Q 682.066 46.784 681.086 46.784 
L 628.541922 46.784 
Q 627.561922 46.784 627.561922 47.764 
L 627.561922 69.830844 
Q 627.561922 70.810844 628.541922 70.810844 
z
" style="fill: #ffffff; opacity: 0.8; stroke: #cccccc; stroke-width: 0.5; stroke-linejoin: miter"/>
    </g>
    <g id="line2d_54">
     <path d="M 629.521922 50.752234 
L 634.421922 50.752234 
L 639.321922 50.752234 
" style="fill: none; stroke-dasharray: 2.4,1.5; stroke-dashoffset: 1.4; stroke: #d62728; stroke-opacity: 0.85; stroke-width: 0.75"/>
    </g>
    <g id="lgt_2_0">
     <text style="font-size: 49px; stroke-width: 0.8; font-family: 'DejaVu Sans', sans-serif; text-anchor: start" transform="translate(643.241922 52.467234) scale(0.1)">Random Guess</text>
    </g>
    <g id="patch_38">
     <path d="M 629.521922 60.149516 
L 639.321922 60.149516 
L 639.321922 56.719516 
L 629.521922 56.719516 
z
" style="fill: #0072b2"/>
    </g>
    <g id="lgt_2_1">
     <text style="font-size: 49px; stroke-width: 0.8; font-family: 'DejaVu Sans', sans-serif; text-anchor: start" transform="translate(643.241922 60.149516) scale(0.1)">P-GAN</text>
    </g>
    <g id="patch_39">
     <path d="M 629.521922 67.831797 
L 639.321922 67.831797 
L 639.321922 64.401797 
L 629.521922 64.401797 
z
" style="fill: #f28030"/>
    </g>
    <g id="lgt_2_2">
     <text style="font-size: 49px; stroke-width: 0.8; font-family: 'DejaVu Sans', sans-serif; text-anchor: start" transform="translate(643.241922 67.831797) scale(0.1)">Standard GAN</text>
    </g>
   </g>
  </g>
  <g id="axes_4">
   <g id="patch_40">
    <path d="M 22.75 390.45 
L 221.9 390.45 
L 221.9 233.4 
L 22.75 233.4 
z
" style="fill: #ffffff"/>
   </g>
   <g id="patch_41">
    <path d="M 31.802273 390.45 
L 48.928194 390.45 
L 48.928194 264.406661 
L 31.802273 264.406661 
z
" clip-path="url(#pb633e9816e)" style="fill: #0072b2"/>
   </g>
   <g id="patch_42">
    <path d="M 80.733477 390.45 
L 97.859398 390.45 
L 97.859398 324.907464 
L 80.733477 324.907464 
z
" clip-path="url(#pb633e9816e)" style="fill: #0072b2"/>
   </g>
   <g id="patch_43">
    <path d="M 129.664681 390.45 
L 146.790602 390.45 
L 146.790602 383.307544 
L 129.664681 383.307544 
z
" clip-path="url(#pb633e9816e)" style="fill: #0072b2"/>
   </g>
   <g id="patch_44">
    <path d="M 178.595885 390.45 
L 195.721806 390.45 
L 195.721806 389.609711 
L 178.595885 389.609711 
z
" clip-path="url(#pb633e9816e)" style="fill: #0072b2"/>
   </g>
   <g id="patch_45">
    <path d="M 48.928194 390.45 
L 66.054115 390.45 
L 66.054115 240.878571 
L 48.928194 240.878571 
z
" clip-path="url(#pb633e9816e)" style="fill: #f28030"/>
   </g>
   <g id="patch_46">
    <path d="M 97.859398 390.45 
L 114.985319 390.45 
L 114.985319 329.949197 
L 97.859398 329.949197 
z
" clip-path="url(#pb633e9816e)" style="fill: #f28030"/>
   </g>
   <g id="patch_47">
    <path d="M 146.790602 390.45 
L 163.916523 390.45 
L 163.916523 384.567978 
L 146.790602 384.567978 
z
" clip-path="url(#pb633e9816e)" style="fill: #f28030"/>
   </g>
   <g id="patch_48">
    <path d="M 195.721806 390.45 
L 212.847727 390.45 
L 212.847727 388.769422 
L 195.721806 388.769422 
z
" clip-path="url(#pb633e9816e)" style="fill: #f28030"/>
   </g>
   <g id="matplotlib.axis_7">
    <g id="xtick_13">
     <g id="line2d_55">
      <g>
       <use href="#m4ba33041bc" x="48.928194" y="390.45" style="stroke: #000000; stroke-width: 0.5"/>
      </g>
     </g>
     <g id="xtl_3_0">
      <text style="font-size: 48px; stroke-width: 0.8; font-family: 'DejaVu Sans', sans-serif; text-anchor: middle" transform="translate(48.928194 397.69725) scale(0.1)">FID</text>
     </g>
    </g>
    <g id="xtick_14">
     <g id="line2d_56">
      <g>
       <use href="#m4ba33041bc" x="97.859398" y="390.45" style="stroke: #000000; stroke-width: 0.5"/>
      </g>
     </g>
     <g id="xtl_3_1">
      <text style="font-size: 48px; stroke-width: 0.8; font-family: 'DejaVu Sans', sans-serif; text-anchor: middle" transform="translate(97.859398 397.69725) scale(0.1)">IS</text>
     </g>
    </g>
    <g id="xtick_15">
     <g id="line2d_57">
      <g>
       <use href="#m4ba33041bc" x="146.790602" y="390.45" style="stroke: #000000; stroke-width: 0.5"/>
      </g>
     </g>
     <g id="xtl_3_2">
      <text style="font-size: 48px; stroke-width: 0.8; font-family: 'DejaVu Sans', sans-serif; text-anchor: middle" transform="translate(146.790602 397.69725) scale(0.1)">AUROC</text>
     </g>
    </g>
    <g id="xtick_16">
     <g id="line2d_58">
      <g>
       <use href="#m4ba33041bc" x="195.721806" y="390.45" style="stroke: #000000; stroke-width: 0.5"/>
      </g>
     </g>
     <g id="xtl_3_3">
      <text style="font-size: 48px; stroke-width: 0.8; font-family: 'DejaVu Sans', sans-serif; text-anchor: middle" transform="translate(195.721806 397.69725) scale(0.1)">KS Test</text>
     </g>
    </g>
   </g>
   <g id="matplotlib.axis_8">
    <g id="ytick_25">
     <g id="line2d_59">
      <g>
       <use href="#madb1147b77" x="22.75" y="390.45" style="stroke: #000000; stroke-width: 0.5"/>
      </g>
     </g>
     <g transform="translate(0 0.7)" id="ytl_3_0">
      <text style="font-size: 48px; stroke-width: 0.8; font-family: 'DejaVu Sans', sans-serif; text-anchor: end" transform="translate(19.15 392.273625) scale(0.1)">0.0</text>
     </g>
    </g>
    <g id="ytick_26">
     <g id="line2d_60">
      <g>
       <use href="#madb1147b77" x="22.75" y="369.442777" style="stroke: #000000; stroke-width: 0.5"/>
      </g>
     </g>
     <g transform="translate(0 0.7)" id="ytl_3_1">
      <text style="font-size: 48px; stroke-width: 0.8; font-family: 'DejaVu Sans', sans-serif; text-anchor: end" transform="translate(19.15 371.266402) scale(0.1)">2.5</text>
     </g>
    </g>
    <g id="ytick_27">
     <g id="line2d_61">
      <g>
       <use href="#madb1147b77" x="22.75" y="348.435554" style="stroke: #000000; stroke-width: 0.5"/>
      </g>
     </g>
     <g transform="translate(0 0.7)" id="ytl_3_2">
      <text style="font-size: 48px; stroke-width: 0.8; font-family: 'DejaVu Sans', sans-serif; text-anchor: end" transform="translate(19.15 350.259179) scale(0.1)">5.0</text>
     </g>
    </g>
    <g id="ytick_28">
     <g id="line2d_62">
      <g>
       <use href="#madb1147b77" x="22.75" y="327.428331" style="stroke: #000000; stroke-width: 0.5"/>
      </g>
     </g>
     <g transform="translate(0 0.7)" id="ytl_3_3">
      <text style="font-size: 48px; stroke-width: 0.8; font-family: 'DejaVu Sans', sans-serif; text-anchor: end" transform="translate(19.15 329.251956) scale(0.1)">7.5</text>
     </g>
    </g>
    <g id="ytick_29">
     <g id="line2d_63">
      <g>
       <use href="#madb1147b77" x="22.75" y="306.421108" style="stroke: #000000; stroke-width: 0.5"/>
      </g>
     </g>
     <g transform="translate(0 0.7)" id="ytl_3_4">
      <text style="font-size: 48px; stroke-width: 0.8; font-family: 'DejaVu Sans', sans-serif; text-anchor: end" transform="translate(19.15 308.244733) scale(0.1)">10.0</text>
     </g>
    </g>
    <g id="ytick_30">
     <g id="line2d_64">
      <g>
       <use href="#madb1147b77" x="22.75" y="285.413884" style="stroke: #000000; stroke-width: 0.5"/>
      </g>
     </g>
     <g transform="translate(0 0.7)" id="ytl_3_5">
      <text style="font-size: 48px; stroke-width: 0.8; font-family: 'DejaVu Sans', sans-serif; text-anchor: end" transform="translate(19.15 287.237509) scale(0.1)">12.5</text>
     </g>
    </g>
    <g id="ytick_31">
     <g id="line2d_65">
      <g>
       <use href="#madb1147b77" x="22.75" y="264.406661" style="stroke: #000000; stroke-width: 0.5"/>
      </g>
     </g>
     <g transform="translate(0 0.7)" id="ytl_3_6">
      <text style="font-size: 48px; stroke-width: 0.8; font-family: 'DejaVu Sans', sans-serif; text-anchor: end" transform="translate(19.15 266.230286) scale(0.1)">15.0</text>
     </g>
    </g>
    <g id="ytick_32">
     <g id="line2d_66">
      <g>
       <use href="#madb1147b77" x="22.75" y="243.399438" style="stroke: #000000; stroke-width: 0.5"/>
      </g>
     </g>
     <g transform="translate(0 0.7)" id="ytl_3_7">
      <text style="font-size: 48px; stroke-width: 0.8; font-family: 'DejaVu Sans', sans-serif; text-anchor: end" transform="translate(19.15 245.223063) scale(0.1)">17.5</text>
     </g>
    </g>
    <g transform="translate(-0.3 0)" id="ylab_3">
     <text style="font-size: 60.8px; stroke-width: 0.4; font-family: 'DejaVu Sans', sans-serif; text-anchor: middle" transform="translate(6.59805 311.925) rotate(-90) scale(0.1)">Score / Value</text>
    </g>
   </g>
   <g id="patch_49">
    <path d="M 22.75 390.45 
L 22.75 233.4 
" style="fill: none; stroke: #000000; stroke-width: 0.45; stroke-linejoin: miter; stroke-linecap: square"/>
   </g>
   <g id="patch_50">
    <path d="M 221.9 390.45 
L 221.9 233.4 
" style="fill: none; stroke: #000000; stroke-width: 0.45; stroke-linejoin: miter; stroke-linecap: square"/>
   </g>
   <g id="patch_51">
    <path d="M 22.75 390.45 
L 221.9 390.45 
" style="fill: none; stroke: #000000; stroke-width: 0.45; stroke-linejoin: miter; stroke-linecap: square"/>
   </g>
   <g id="patch_52">
    <path d="M 22.75 233.4 
L 221.9 233.4 
" style="fill: none; stroke: #000000; stroke-width: 0.45; stroke-linejoin: miter; stroke-linecap: square"/>
   </g>
   <g transform="translate(0.3 -0.3)" id="ttl_3">
    <text style="font-size: 68px; stroke-width: 0; font-family: 'DejaVu Sans', sans-serif; text-anchor: middle" transform="translate(122.325 230.3) scale(0.1)">Model Performance Comparison</text>
   </g>
   <g id="legend_4">
    <g id="patch_53">
     <path d="M 168.641562 252.488563 
L 218.986 252.488563 
Q 219.966 252.488563 219.966 251.508563 
L 219.966 237.614 
Q 219.966 236.634 218.986 236.634 
L 168.641562 236.634 
Q 167.661562 236.634 167.661562 237.614 
L 167.661562 251.508563 
Q 167.661562 252.488563 168.641562 252.488563 
z
" style="fill: #ffffff; opacity: 0.8; stroke: #cccccc; stroke-width: 0.5; stroke-linejoin: miter"/>
    </g>
    <g id="patch_54">
     <path d="M 169.621562 242.317234 
L 179.421562 242.317234 
L 179.421562 238.887234 
L 169.621562 238.887234 
z
" style="fill: #0072b2"/>
    </g>
    <g id="lgt_3_0">
     <text style="font-size: 49px; stroke-width: 0.8; font-family: 'DejaVu Sans', sans-serif; text-anchor: start" transform="translate(183.341562 242.317234) scale(0.1)">P-GAN</text>
    </g>
    <g id="patch_55">
     <path d="M 169.621562 249.509516 
L 179.421562 249.509516 
L 179.421562 246.079516 
L 169.621562 246.079516 
z
" style="fill: #f28030"/>
    </g>
    <g id="lgt_3_1">
     <text style="font-size: 49px; stroke-width: 0.8; font-family: 'DejaVu Sans', sans-serif; text-anchor: start" transform="translate(183.341562 249.509516) scale(0.1)">Standard GAN</text>
    </g>
   </g>
  </g>
  <g id="axes_5">
   <g id="patch_56">
    <path d="M 253.6 390.45 
L 453.1 390.45 
L 453.1 233.4 
L 253.6 233.4 
z
" style="fill: #ffffff"/>
   </g>
   <g id="patch_57">
    <path d="M 262.668182 390.45 
L 276.102525 390.45 
L 276.102525 254.34 
L 262.668182 254.34 
z
" clip-path="url(#p8470e2347f)" style="fill: #0072b2"/>
   </g>
   <g id="patch_58">
    <path d="M 296.25404 390.45 
L 309.688384 390.45 
L 309.688384 264.81 
L 296.25404 264.81 
z
" clip-path="url(#p8470e2347f)" style="fill: #0072b2"/>
   </g>
   <g id="patch_59">
    <path d="M 329.839899 390.45 
L 343.274242 390.45 
L 343.274242 259.575 
L 329.839899 259.575 
z
" clip-path="url(#p8470e2347f)" style="fill: #0072b2"/>
   </g>
   <g id="patch_60">
    <path d="M 363.425758 390.45 
L 376.860101 390.45 
L 376.860101 247.36 
L 363.425758 247.36 
z
" clip-path="url(#p8470e2347f)" style="fill: #0072b2"/>
   </g>
   <g id="patch_61">
    <path d="M 397.011616 390.45 
L 410.44596 390.45 
L 410.44596 264.81 
L 397.011616 264.81 
z
" clip-path="url(#p8470e2347f)" style="fill: #0072b2"/>
   </g>
   <g id="patch_62">
    <path d="M 430.597475 390.45 
L 444.031818 390.45 
L 444.031818 257.83 
L 430.597475 257.83 
z
" clip-path="url(#p8470e2347f)" style="fill: #0072b2"/>
   </g>
   <g id="matplotlib.axis_9">
    <g id="xtick_17">
     <g id="line2d_67">
      <g>
       <use href="#m4ba33041bc" x="269.385354" y="390.45" style="stroke: #000000; stroke-width: 0.5"/>
      </g>
     </g>
     <g transform="translate(0 0.7)" id="xtl_4_0">
      <text style="font-size: 49.8px; stroke-width: 0.8; font-family: 'DejaVu Sans', sans-serif" transform="translate(248.2195 412.894948) rotate(-45) scale(0.1)">Technical</text>
      <text style="font-size: 49.8px; stroke-width: 0.8; font-family: 'DejaVu Sans', sans-serif" transform="translate(248.460583 421.182412) rotate(-45) scale(0.1)">Robustness</text>
     </g>
    </g>
    <g id="xtick_18">
     <g id="line2d_68">
      <g>
       <use href="#m4ba33041bc" x="302.971212" y="390.45" style="stroke: #000000; stroke-width: 0.5"/>
      </g>
     </g>
     <g transform="translate(0 0.7)" id="xtl_4_1">
      <text style="font-size: 49.8px; stroke-width: 0.8; font-family: 'DejaVu Sans', sans-serif" transform="translate(289.566726 405.133581) rotate(-45) scale(0.1)">Data</text>
      <text style="font-size: 49.8px; stroke-width: 0.8; font-family: 'DejaVu Sans', sans-serif" transform="translate(280.994426 422.234427) rotate(-45) scale(0.1)">Governance</text>
     </g>
    </g>
    <g id="xtick_19">
     <g id="line2d_69">
      <g>
       <use href="#m4ba33041bc" x="336.557071" y="390.45" style="stroke: #000000; stroke-width: 0.5"/>
      </g>
     </g>
     <g transform="translate(0 0.7)" id="xtl_4_2">
      <text style="font-size: 49.8px; stroke-width: 0.8; font-family: 'DejaVu Sans', sans-serif" transform="translate(312.3409 420.209539) rotate(-45) scale(0.1)">Transparency</text>
     </g>
    </g>
    <g id="xtick_20">
     <g id="line2d_70">
      <g>
       <use href="#m4ba33041bc" x="370.142929" y="390.45" style="stroke: #000000; stroke-width: 0.5"/>
      </g>
     </g>
     <g transform="translate(0 0.7)" id="xtl_4_3">
      <text style="font-size: 49.8px; stroke-width: 0.8; font-family: 'DejaVu Sans', sans-serif" transform="translate(352.446747 409.425277) rotate(-45) scale(0.1)">Human</text>
      <text style="font-size: 49.8px; stroke-width: 0.8; font-family: 'DejaVu Sans', sans-serif" transform="translate(352.279569 418.121002) rotate(-45) scale(0.1)">Oversight</text>
     </g>
    </g>
    <g id="xtick_21">
     <g id="line2d_71">
      <g>
       <use href="#m4ba33041bc" x="403.728788" y="390.45" style="stroke: #000000; stroke-width: 0.5"/>
      </g>
     </g>
     <g transform="translate(0 0.7)" id="xtl_4_4">
      <text style="font-size: 49.8px; stroke-width: 0.8; font-family: 'DejaVu Sans', sans-serif" transform="translate(376.005443 419.45244) rotate(-45) scale(0.1)">Non-Discrim.</text>
      <text style="font-size: 49.8px; stroke-width: 0.8; font-family: 'DejaVu Sans', sans-serif" transform="translate(387.51663 416.469799) rotate(-45) scale(0.1)">/Fairness</text>
     </g>
    </g>
    <g id="xtick_22">
     <g id="line2d_72">
      <g>
       <use href="#m4ba33041bc" x="437.314646" y="390.45" style="stroke: #000000; stroke-width: 0.5"/>
      </g>
     </g>
     <g transform="translate(0 0.7)" id="xtl_4_5">
      <text style="font-size: 49.8px; stroke-width: 0.8; font-family: 'DejaVu Sans', sans-serif" transform="translate(411.571072 421.736943) rotate(-45) scale(0.1)">Accountability</text>
     </g>
    </g>
   </g>
   <g id="matplotlib.axis_10">
    <g id="ytick_33">
     <g id="line2d_73">
      <g>
       <use href="#madb1147b77" x="253.6" y="390.45" style="stroke: #000000; stroke-width: 0.5"/>
      </g>
     </g>
     <g transform="translate(0 0.7)" id="ytl_4_0">
      <text style="font-size: 48px; stroke-width: 0.8; font-family: 'DejaVu Sans', sans-serif; text-anchor: end" transform="translate(250 392.273625) scale(0.1)">0.0</text>
     </g>
    </g>
    <g id="ytick_34">
     <g id="line2d_74">
      <g>
       <use href="#madb1147b77" x="253.6" y="373" style="stroke: #000000; stroke-width: 0.5"/>
      </g>
     </g>
     <g transform="translate(0 0.7)" id="ytl_4_1">
      <text style="font-size: 48px; stroke-width: 0.8; font-family: 'DejaVu Sans', sans-serif; text-anchor: end" transform="translate(250 374.823625) scale(0.1)">0.1</text>
     </g>
    </g>
    <g id="ytick_35">
     <g id="line2d_75">
      <g>
       <use href="#madb1147b77" x="253.6" y="355.55" style="stroke: #000000; stroke-width: 0.5"/>
      </g>
     </g>
     <g transform="translate(0 0.7)" id="ytl_4_2">
      <text style="font-size: 48px; stroke-width: 0.8; font-family: 'DejaVu Sans', sans-serif; text-anchor: end" transform="translate(250 357.373625) scale(0.1)">0.2</text>
     </g>
    </g>
    <g id="ytick_36">
     <g id="line2d_76">
      <g>
       <use href="#madb1147b77" x="253.6" y="338.1" style="stroke: #000000; stroke-width: 0.5"/>
      </g>
     </g>
     <g transform="translate(0 0.7)" id="ytl_4_3">
      <text style="font-size: 48px; stroke-width: 0.8; font-family: 'DejaVu Sans', sans-serif; text-anchor: end" transform="translate(250 339.923625) scale(0.1)">0.3</text>
     </g>
    </g>
    <g id="ytick_37">
     <g id="line2d_77">
      <g>
       <use href="#madb1147b77" x="253.6" y="320.65" style="stroke: #000000; stroke-width: 0.5"/>
      </g>
     </g>
     <g transform="translate(0 0.7)" id="ytl_4_4">
      <text style="font-size: 48px; stroke-width: 0.8; font-family: 'DejaVu Sans', sans-serif; text-anchor: end" transform="translate(250 322.473625) scale(0.1)">0.4</text>
     </g>
    </g>
    <g id="ytick_38">
     <g id="line2d_78">
      <g>
       <use href="#madb1147b77" x="253.6" y="303.2" style="stroke: #000000; stroke-width: 0.5"/>
      </g>
     </g>
     <g transform="translate(0 0.7)" id="ytl_4_5">
      <text style="font-size: 48px; stroke-width: 0.8; font-family: 'DejaVu Sans', sans-serif; text-anchor: end" transform="translate(250 305.023625) scale(0.1)">0.5</text>
     </g>
    </g>
    <g id="ytick_39">
     <g id="line2d_79">
      <g>
       <use href="#madb1147b77" x="253.6" y="285.75" style="stroke: #000000; stroke-width: 0.5"/>
      </g>
     </g>
     <g transform="translate(0 0.7)" id="ytl_4_6">
      <text style="font-size: 48px; stroke-width: 0.8; font-family: 'DejaVu Sans', sans-serif; text-anchor: end" transform="translate(250 287.573625) scale(0.1)">0.6</text>
     </g>
    </g>
    <g id="ytick_40">
     <g id="line2d_80">
      <g>
       <use href="#madb1147b77" x="253.6" y="268.3" style="stroke: #000000; stroke-width: 0.5"/>
      </g>
     </g>
     <g transform="translate(0 0.7)" id="ytl_4_7">
      <text style="font-size: 48px; stroke-width: 0.8; font-family: 'DejaVu Sans', sans-serif; text-anchor: end" transform="translate(250 270.123625) scale(0.1)">0.7</text>
     </g>
    </g>
    <g id="ytick_41">
     <g id="line2d_81">
      <g>
       <use href="#madb1147b77" x="253.6" y="250.85" style="stroke: #000000; stroke-width: 0.5"/>
      </g>
     </g>
     <g transform="translate(0 0.7)" id="ytl_4_8">
      <text style="font-size: 48px; stroke-width: 0.8; font-family: 'DejaVu Sans', sans-serif; text-anchor: end" transform="translate(250 252.673625) scale(0.1)">0.8</text>
     </g>
    </g>
    <g id="ytick_42">
     <g id="line2d_82">
      <g>
       <use href="#madb1147b77" x="253.6" y="233.4" style="stroke: #000000; stroke-width: 0.5"/>
      </g>
     </g>
     <g transform="translate(0 0.7)" id="ytl_4_9">
      <text style="font-size: 48px; stroke-width: 0.8; font-family: 'DejaVu Sans', sans-serif; text-anchor: end" transform="translate(250 235.223625) scale(0.1)">0.9</text>
     </g>
    </g>
    <g transform="translate(-0.8 0)" id="ylab_4">
     <text style="font-size: 60.8px; stroke-width: 0.4; font-family: 'DejaVu Sans', sans-serif; text-anchor: middle" transform="translate(240.50205 311.925) rotate(-90) scale(0.1)">Compliance Score</text>
    </g>
   </g>
   <g id="line2d_83">
    <path d="M 253.6 268.3 
L 453.1 268.3 
" clip-path="url(#p8470e2347f)" style="fill: none; stroke-dasharray: 2.4,1.5; stroke-dashoffset: 0.35; stroke: #d62728; stroke-opacity: 0.85; stroke-width: 0.75"/>
   </g>
   <g id="patch_63">
    <path d="M 253.6 390.45 
L 253.6 233.4 
" style="fill: none; stroke: #000000; stroke-width: 0.45; stroke-linejoin: miter; stroke-linecap: square"/>
   </g>
   <g id="patch_64">
    <path d="M 453.1 390.45 
L 453.1 233.4 
" style="fill: none; stroke: #000000; stroke-width: 0.45; stroke-linejoin: miter; stroke-linecap: square"/>
   </g>
   <g id="patch_65">
    <path d="M 253.6 390.45 
L 453.1 390.45 
" style="fill: none; stroke: #000000; stroke-width: 0.45; stroke-linejoin: miter; stroke-linecap: square"/>
   </g>
   <g id="patch_66">
    <path d="M 253.6 233.4 
L 453.1 233.4 
" style="fill: none; stroke: #000000; stroke-width: 0.45; stroke-linejoin: miter; stroke-linecap: square"/>
   </g>
   <g transform="translate(0.3 -0.3)" id="ttl_4">
    <text style="font-size: 68px; stroke-width: 0; font-family: 'DejaVu Sans', sans-serif; text-anchor: middle" transform="translate(353.35 230.3) scale(0.1)">AI Act Compliance Score</text>
   </g>
   <g id="legend_5">
    <g id="patch_67">
     <path d="M 379.959813 252.488563 
L 450.186 252.488563 
Q 451.166 252.488563 451.166 251.508563 
L 451.166 237.614 
Q 451.166 236.634 450.186 236.634 
L 379.959813 236.634 
Q 378.979813 236.634 378.979813 237.614 
L 378.979813 251.508563 
Q 378.979813 252.488563 379.959813 252.488563 
z
" style="fill: #ffffff; opacity: 0.8; stroke: #cccccc; stroke-width: 0.5; stroke-linejoin: miter"/>
    </g>
    <g id="line2d_84">
     <path d="M 380.939813 240.602234 
L 385.839813 240.602234 
L 390.739813 240.602234 
" style="fill: none; stroke-dasharray: 2.4,1.5; stroke-dashoffset: 0.35; stroke: #d62728; stroke-opacity: 0.85; stroke-width: 0.75"/>
    </g>
    <g id="lgt_4_0">
     <text style="font-size: 49px; stroke-width: 0.8; font-family: 'DejaVu Sans', sans-serif; text-anchor: start" transform="translate(394.659813 242.317234) scale(0.1)">Compliance Threshold</text>
    </g>
    <g id="patch_68">
     <path d="M 380.939813 249.509516 
L 390.739813 249.509516 
L 390.739813 246.079516 
L 380.939813 246.079516 
z
" style="fill: #0072b2"/>
    </g>
    <g id="lgt_4_1">
     <text style="font-size: 49px; stroke-width: 0.8; font-family: 'DejaVu Sans', sans-serif; text-anchor: start" transform="translate(394.659813 249.509516) scale(0.1)">P-GAN</text>
    </g>
   </g>
  </g>
  <g id="axes_6">
   <g id="patch_69">
    <path d="M 484.6 390.45 
L 684 390.45 
L 684 233.4 
L 484.6 233.4 
z
" style="fill: #ffffff"/>
   </g>
   <g id="patch_70">
    <path d="M 493.663636 390.45 
L 529.918182 390.45 
L 529.918182 269.093182 
L 493.663636 269.093182 
z
" clip-path="url(#p7823d25b35)" style="fill: #f38a2d"/>
   </g>
   <g id="patch_71">
    <path d="M 566.172727 390.45 
L 602.427273 390.45 
L 602.427273 276.231818 
L 566.172727 276.231818 
z
" clip-path="url(#p7823d25b35)" style="fill: #f38a2d"/>
   </g>
   <g id="patch_72">
    <path d="M 638.681818 390.45 
L 674.936364 390.45 
L 674.936364 290.509091 
L 638.681818 290.509091 
z
" clip-path="url(#p7823d25b35)" style="fill: #f38a2d"/>
   </g>
   <g id="matplotlib.axis_11">
    <g id="xtick_23">
     <g id="line2d_85">
      <g>
       <use href="#m4ba33041bc" x="511.790909" y="390.45" style="stroke: #000000; stroke-width: 0.5"/>
      </g>
     </g>
     <g id="xtl_5_0">
      <text style="font-size: 48px; stroke-width: 0.8; font-family: 'DejaVu Sans', sans-serif" transform="translate(502.322534 397.69725) scale(0.1)">Training</text>
      <text style="font-size: 48px; stroke-width: 0.8; font-family: 'DejaVu Sans', sans-serif" transform="translate(505.918784 403.50987) scale(0.1)">Time</text>
     </g>
    </g>
    <g id="xtick_24">
     <g id="line2d_86">
      <g>
       <use href="#m4ba33041bc" x="584.3" y="390.45" style="stroke: #000000; stroke-width: 0.5"/>
      </g>
     </g>
     <g id="xtl_5_1">
      <text style="font-size: 48px; stroke-width: 0.8; font-family: 'DejaVu Sans', sans-serif" transform="translate(573.022625 397.69725) scale(0.1)">Inference</text>
      <text style="font-size: 48px; stroke-width: 0.8; font-family: 'DejaVu Sans', sans-serif" transform="translate(578.427875 403.50987) scale(0.1)">Time</text>
     </g>
    </g>
    <g id="xtick_25">
     <g id="line2d_87">
      <g>
       <use href="#m4ba33041bc" x="656.809091" y="390.45" style="stroke: #000000; stroke-width: 0.5"/>
      </g>
     </g>
     <g id="xtl_5_2">
      <text style="font-size: 48px; stroke-width: 0.8; font-family: 'DejaVu Sans', sans-serif" transform="translate(645.032591 397.69725) scale(0.1)">Execution</text>
      <text style="font-size: 48px; stroke-width: 0.8; font-family: 'DejaVu Sans', sans-serif" transform="translate(649.284716 403.50987) scale(0.1)">Speed</text>
     </g>
    </g>
   </g>
   <g id="matplotlib.axis_12">
    <g id="ytick_43">
     <g id="line2d_88">
      <g>
       <use href="#madb1147b77" x="484.6" y="390.45" style="stroke: #000000; stroke-width: 0.5"/>
      </g>
     </g>
     <g transform="translate(0 0.7)" id="ytl_5_0">
      <text style="font-size: 48px; stroke-width: 0.8; font-family: 'DejaVu Sans', sans-serif; text-anchor: end" transform="translate(481 392.273625) scale(0.1)">0.0</text>
     </g>
    </g>
    <g id="ytick_44">
     <g id="line2d_89">
      <g>
       <use href="#madb1147b77" x="484.6" y="361.895455" style="stroke: #000000; stroke-width: 0.5"/>
      </g>
     </g>
     <g transform="translate(0 0.7)" id="ytl_5_1">
      <text style="font-size: 48px; stroke-width: 0.8; font-family: 'DejaVu Sans', sans-serif; text-anchor: end" transform="translate(481 363.71908) scale(0.1)">0.2</text>
     </g>
    </g>
    <g id="ytick_45">
     <g id="line2d_90">
      <g>
       <use href="#madb1147b77" x="484.6" y="333.340909" style="stroke: #000000; stroke-width: 0.5"/>
      </g>
     </g>
     <g transform="translate(0 0.7)" id="ytl_5_2">
      <text style="font-size: 48px; stroke-width: 0.8; font-family: 'DejaVu Sans', sans-serif; text-anchor: end" transform="translate(481 335.164534) scale(0.1)">0.4</text>
     </g>
    </g>
    <g id="ytick_46">
     <g id="line2d_91">
      <g>
       <use href="#madb1147b77" x="484.6" y="304.786364" style="stroke: #000000; stroke-width: 0.5"/>
      </g>
     </g>
     <g transform="translate(0 0.7)" id="ytl_5_3">
      <text style="font-size: 48px; stroke-width: 0.8; font-family: 'DejaVu Sans', sans-serif; text-anchor: end" transform="translate(481 306.609989) scale(0.1)">0.6</text>
     </g>
    </g>
    <g id="ytick_47">
     <g id="line2d_92">
      <g>
       <use href="#madb1147b77" x="484.6" y="276.231818" style="stroke: #000000; stroke-width: 0.5"/>
      </g>
     </g>
     <g transform="translate(0 0.7)" id="ytl_5_4">
      <text style="font-size: 48px; stroke-width: 0.8; font-family: 'DejaVu Sans', sans-serif; text-anchor: end" transform="translate(481 278.055443) scale(0.1)">0.8</text>
     </g>
    </g>
    <g id="ytick_48">
     <g id="line2d_93">
      <g>
       <use href="#madb1147b77" x="484.6" y="247.677273" style="stroke: #000000; stroke-width: 0.5"/>
      </g>
     </g>
     <g transform="translate(0 0.7)" id="ytl_5_5">
      <text style="font-size: 48px; stroke-width: 0.8; font-family: 'DejaVu Sans', sans-serif; text-anchor: end" transform="translate(481 249.500898) scale(0.1)">1.0</text>
     </g>
    </g>
    <g transform="translate(-0.65 0)" id="ylab_5">
     <text style="font-size: 60.8px; stroke-width: 0.4; font-family: 'DejaVu Sans', sans-serif" transform="translate(464.69378 349.039125) rotate(-90) scale(0.1)">Normalized Score / Time</text>
     <text style="font-size: 60.8px; stroke-width: 0.4; font-family: 'DejaVu Sans', sans-serif" transform="translate(471.50205 359.657275) rotate(-90) scale(0.1)">(lower is better or specific unit)</text>
    </g>
   </g>
   <g id="line2d_94">
    <path d="M 484.6 247.677273 
L 684 247.677273 
" clip-path="url(#p7823d25b35)" style="fill: none; stroke-dasharray: 1,1; stroke-dashoffset: 0.6; stroke: #808080; stroke-opacity: 0.6; stroke-width: 0.75"/>
   </g>
   <g id="patch_73">
    <path d="M 484.6 390.45 
L 484.6 233.4 
" style="fill: none; stroke: #000000; stroke-width: 0.45; stroke-linejoin: miter; stroke-linecap: square"/>
   </g>
   <g id="patch_74">
    <path d="M 684 390.45 
L 684 233.4 
" style="fill: none; stroke: #000000; stroke-width: 0.45; stroke-linejoin: miter; stroke-linecap: square"/>
   </g>
   <g id="patch_75">
    <path d="M 484.6 390.45 
L 684 390.45 
" style="fill: none; stroke: #000000; stroke-width: 0.45; stroke-linejoin: miter; stroke-linecap: square"/>
   </g>
   <g id="patch_76">
    <path d="M 484.6 233.4 
L 684 233.4 
" style="fill: none; stroke: #000000; stroke-width: 0.45; stroke-linejoin: miter; stroke-linecap: square"/>
   </g>
   <g transform="translate(0.3 -0.3)" id="ttl_5">
    <text style="font-size: 68px; stroke-width: 0; font-family: 'DejaVu Sans', sans-serif; text-anchor: middle" transform="translate(584.3 230.3) scale(0.1)">Improved Efficiency</text>
   </g>
   <g id="legend_6">
    <g id="patch_77">
     <path d="M 604.046516 252.488563 
L 681.086 252.488563 
Q 682.066 252.488563 682.066 251.508563 
L 682.066 237.614 
Q 682.066 236.634 681.086 236.634 
L 604.046516 236.634 
Q 603.066516 236.634 603.066516 237.614 
L 603.066516 251.508563 
Q 603.066516 252.488563 604.046516 252.488563 
z
" style="fill: #ffffff; opacity: 0.8; stroke: #cccccc; stroke-width: 0.5; stroke-linejoin: miter"/>
    </g>
    <g id="line2d_95">
     <path d="M 605.026516 240.602234 
L 609.926516 240.602234 
L 614.826516 240.602234 
" style="fill: none; stroke-dasharray: 1,1; stroke-dashoffset: 0.6; stroke: #808080; stroke-opacity: 0.6; stroke-width: 0.75"/>
    </g>
    <g id="lgt_5_0">
     <text style="font-size: 49px; stroke-width: 0.8; font-family: 'DejaVu Sans', sans-serif; text-anchor: start" transform="translate(618.746516 242.317234) scale(0.1)">Baseline/Max Efficiency</text>
    </g>
    <g id="patch_78">
     <path d="M 605.026516 249.509516 
L 614.826516 249.509516 
L 614.826516 246.079516 
L 605.026516 246.079516 
z
" style="fill: #f38a2d"/>
    </g>
    <g id="lgt_5_1">
     <text style="font-size: 49px; stroke-width: 0.8; font-family: 'DejaVu Sans', sans-serif; text-anchor: start" transform="translate(618.746516 249.509516) scale(0.1)">P-GAN Result (Efficiency)</text>
    </g>
   </g>
  </g>
  <g id="text_1">
   <text style="font-weight: 700; font-size: 97.2px; stroke-width: 0; font-family: 'DejaVu Sans', sans-serif; text-anchor: middle" transform="translate(342.5 8.5) scale(0.1)">Comparative Analysis of P-GAN and Standard GAN Models</text>
  </g>
 </g>
 <defs>
  <clipPath id="pb5291930f9">
   <rect x="22.75" y="43.55" width="199.15" height="157.1"/>
  </clipPath>
  <clipPath id="pd7e8473925">
   <rect x="253.6" y="43.55" width="199.5" height="157.1"/>
  </clipPath>
  <clipPath id="pd93d9372f3">
   <rect x="484.6" y="43.55" width="199.4" height="157.1"/>
  </clipPath>
  <clipPath id="pb633e9816e">
   <rect x="22.75" y="233.4" width="199.15" height="157.05"/>
  </clipPath>
  <clipPath id="p8470e2347f">
   <rect x="253.6" y="233.4" width="199.5" height="157.05"/>
  </clipPath>
  <clipPath id="p7823d25b35">
   <rect x="484.6" y="233.4" width="199.4" height="157.05"/>
  </clipPath>
 </defs>
</svg>

</body></html>
